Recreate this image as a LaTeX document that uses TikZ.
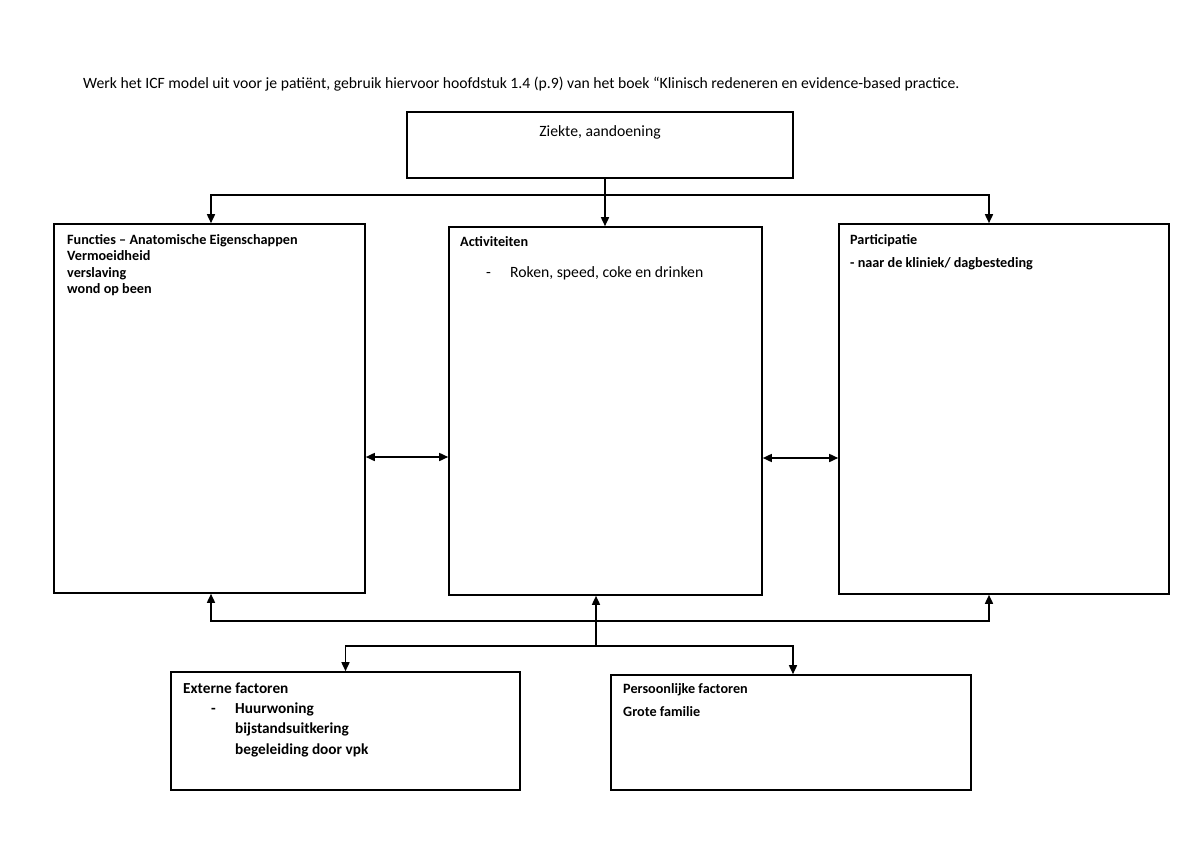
\documentclass[tikz,border=0pt]{standalone}
\usepackage{fontspec}
\setmainfont{Carlito}
\usetikzlibrary{arrows.meta}
\tikzset{
  box/.style={draw, line width=1.6pt, rectangle, inner sep=0pt},
  conn/.style={line width=1.6pt},
  arr/.style={conn, -{Triangle[length=9pt,width=8pt]}},
  darr/.style={conn, {Triangle[length=9pt,width=8pt]}-{Triangle[length=9pt,width=8pt]}},
  lbl/.style={inner sep=0pt, anchor=base west, font=\fontsize{15.7}{18}\selectfont},
  blbl/.style={lbl, font=\fontsize{14.2}{16}\selectfont\bfseries},
  elbl/.style={lbl, font=\fontsize{15.3}{18}\selectfont\bfseries},
}
\begin{document}
\begin{tikzpicture}[x=1pt,y=-1pt]
\useasboundingbox[fill=white] (0,0) rectangle (1200,849);

% title
\node[lbl] (title) at (83,88.5) {Werk het ICF model uit voor je patiënt, gebruik hiervoor hoofdstuk 1.4 (p.9) van het boek “Klinisch redeneren en evidence-based practice.};

% boxes
\node[box, minimum width=386pt, minimum height=66pt] (top) at (600,145) {};
\node[box, minimum width=311pt, minimum height=369pt] (func) at (209.5,408.5) {};
\node[box, minimum width=313pt, minimum height=368pt] (act) at (605.5,411) {};
\node[box, minimum width=330pt, minimum height=370pt] (part) at (1004,409) {};
\node[box, minimum width=349pt, minimum height=118pt] (ext) at (345.5,731) {};
\node[box, minimum width=360pt, minimum height=115pt] (pers) at (791,732.5) {};

% texts
\node[lbl, anchor=base] (ttop) at (600,136) {Ziekte, aandoening};

\node[blbl] (f1) at (67,244) {Functies – Anatomische Eigenschappen};
\node[blbl] (f2) at (67,260.5) {Vermoeidheid};
\node[blbl] (f3) at (67,277) {verslaving};
\node[blbl] (f4) at (67,293.5) {wond op been};

\node[blbl] (a1) at (460,246) {Activiteiten};
\node[lbl] (a2d) at (486,277.5) {-};
\node[lbl] (a2) at (510,277.5) {Roken, speed, coke en drinken};

\node[blbl] (p1) at (850,244) {Participatie};
\node[blbl] (p2) at (850,267) {- naar de kliniek/ dagbesteding};

\node[elbl] (e1) at (183,693) {Externe factoren};
\node[elbl] (e2d) at (211,713) {-};
\node[elbl] (e2) at (235,713) {Huurwoning};
\node[elbl] (e3) at (235,733.5) {bijstandsuitkering};
\node[elbl] (e4) at (235,754) {begeleiding door vpk};

\node[blbl] (s1) at (623,693) {Persoonlijke factoren};
\node[blbl] (s2) at (623,716) {Grote familie};

% top connectors
\coordinate (j1) at (605,195);
\draw[conn] (top.south -| j1) -- (j1);
\draw[arr] (j1) -- (act.north -| j1);
\draw[arr] (j1) -| ([xshift=1.5pt]func.north);
\draw[arr] (j1) -| ([xshift=-15pt]part.north);

% side double arrows
\draw[darr] (func.east |- 0,457) -- (act.west |- 0,457);
\draw[darr] (act.east |- 0,458) -- (part.west |- 0,458);

% bottom connectors
\coordinate (j2) at (596,621);
\coordinate (j3) at (596,646);
\draw[arr] (j2) -| ([xshift=1.5pt]func.south);
\draw[arr] (j2) -| ([xshift=-15pt]part.south);
\draw[arr] (j3) -- (act.south -| j3);
\draw[arr] (j3) -| (ext.north);
\draw[arr] (j3) -| ([xshift=2pt]pers.north);
\end{tikzpicture}
\end{document}
